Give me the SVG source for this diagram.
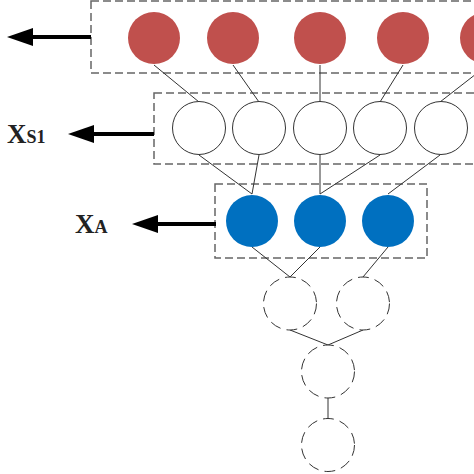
<svg xmlns="http://www.w3.org/2000/svg" width="474" height="474" viewBox="0 0 474 474">
<style>
.box{fill:none;stroke:#666;stroke-width:1.5;stroke-dasharray:8,4}
.red{fill:#C0504D}
.blue{fill:#0070C0}
.white{fill:#fff;stroke:#333;stroke-width:1}
.dash{fill:#fff;stroke:#333;stroke-width:1;stroke-dasharray:11,6}
.link{stroke:#333;stroke-width:1;fill:none}
.arrow{stroke:#000;stroke-width:4;fill:none}
.head{fill:#000}
.lbl{font-family:"Liberation Serif","Times New Roman",serif;font-weight:bold;fill:#222}
</style>
<rect width="474" height="474" fill="#fff"/>
<g id="boxes">
<rect class="box" x="91" y="1" width="400" height="72"/>
<rect class="box" x="154" y="93" width="340" height="71"/>
<rect class="box" x="215" y="184" width="212" height="74"/>
</g>
<g id="connectors">
<path class="link" d="M154,65L199,102M233,65L259,102M320,65L320,102M403,65L380,102M476,74L440,102"/>
<path class="link" d="M199,155L252,194M259,155L252,194M320,155L320,194M380,155L320,194M440,155L388,194"/>
<path class="link" d="M252,247L290,277M320,247L290,277M388,247L363,277"/>
<path class="link" d="M290,330L328,345M363,330L328,345M328,398L328,419"/>
<path class="arrow" d="M91,37L30,37"/>
<polygon class="head" points="7,37 33,28 33,46"/>
<path class="arrow" d="M154,134L90,134"/>
<polygon class="head" points="68,134 94,125 94,143"/>
<path class="arrow" d="M216,224L154,224"/>
<polygon class="head" points="132,224 158,215 158,233"/>
</g>
<g id="layer-red">
<circle class="red" cx="154" cy="38" r="26"/>
<circle class="red" cx="233" cy="38" r="26"/>
<circle class="red" cx="320" cy="38" r="26"/>
<circle class="red" cx="403" cy="38" r="26"/>
<circle class="red" cx="486" cy="38" r="26"/>
</g>
<g id="layer-s1">
<circle class="white" cx="199" cy="128" r="26.5"/>
<circle class="white" cx="259" cy="128" r="26.5"/>
<circle class="white" cx="320" cy="128" r="26.5"/>
<circle class="white" cx="380" cy="128" r="26.5"/>
<circle class="white" cx="441" cy="128" r="26.5"/>
</g>
<g id="layer-a">
<circle class="blue" cx="252" cy="221" r="26"/>
<circle class="blue" cx="320" cy="221" r="26"/>
<circle class="blue" cx="388" cy="221" r="26"/>
</g>
<g id="dashed-1"><circle class="dash" cx="290" cy="303.5" r="26.5"/></g>
<g id="dashed-2"><circle class="dash" cx="363" cy="303.5" r="26.5"/></g>
<g id="dashed-3"><circle class="dash" cx="328" cy="371.5" r="26.5"/></g>
<g id="dashed-4"><circle class="dash" cx="328" cy="445" r="26.5"/></g>
<g id="labels">
<text class="lbl" x="7" y="143" font-size="27">X<tspan font-size="18">S1</tspan></text>
<text class="lbl" x="75" y="233" font-size="27">X<tspan font-size="18">A</tspan></text>
</g>
</svg>
